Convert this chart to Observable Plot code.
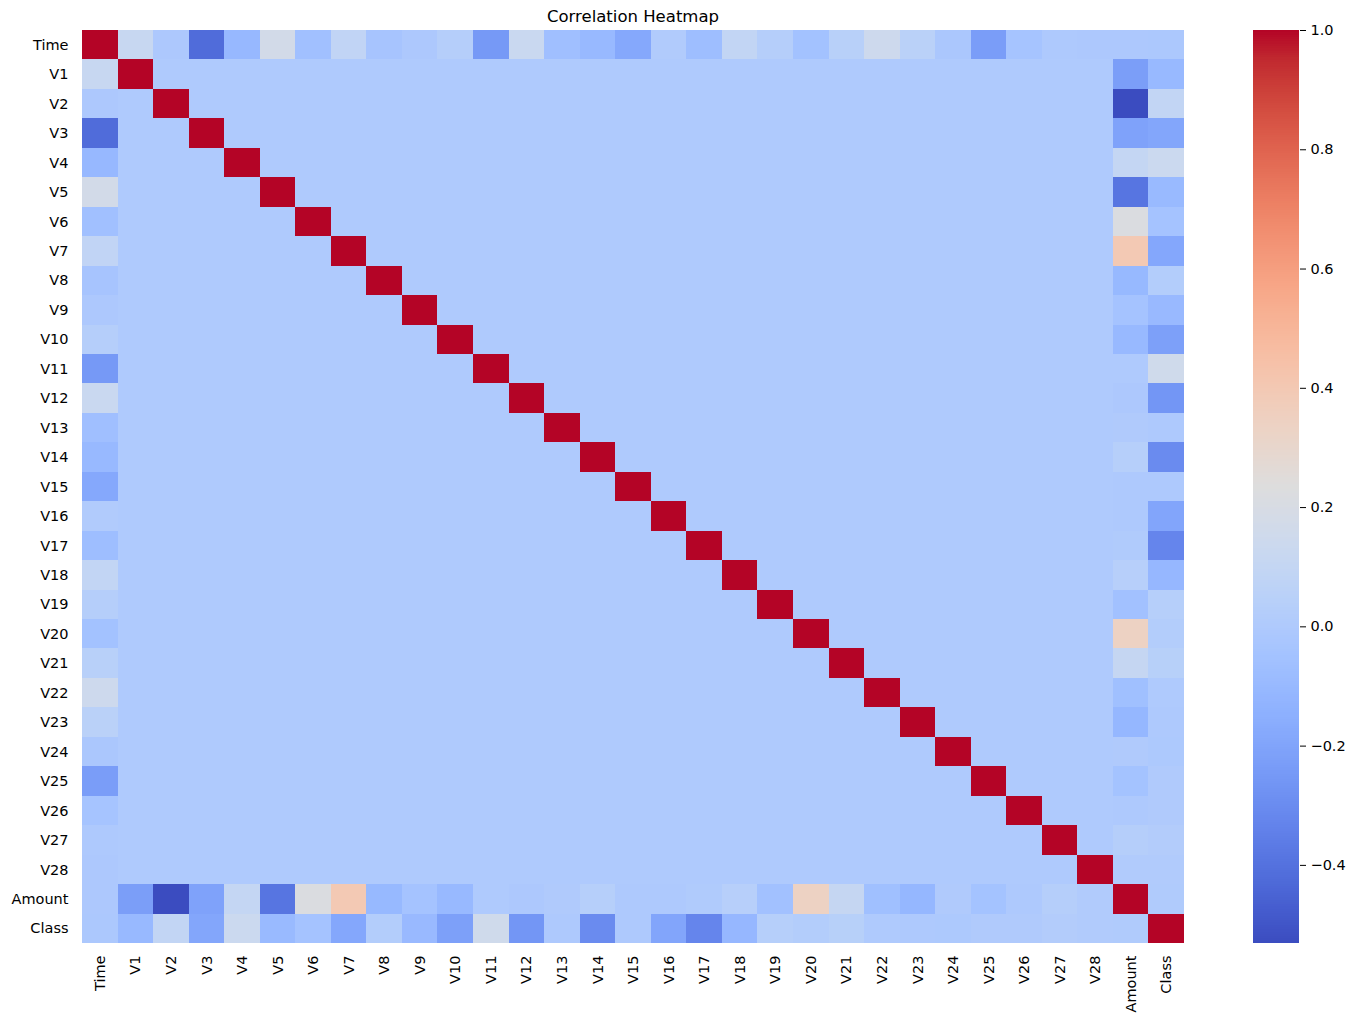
<!DOCTYPE html>
<html>
<head>
<meta charset="utf-8">
<script src="https://cdn.jsdelivr.net/npm/d3@7"></script>
<script src="https://cdn.jsdelivr.net/npm/@observablehq/plot@0.6"></script>
<style>
  body { margin: 0; background: #fff; font-family: "DejaVu Sans", sans-serif; overflow: hidden; }
  #wrap { position: relative; width: 1358px; height: 1025px; }
  #title { position: absolute; left: 0; width: 1266px; top: 7px; text-align: center; font-size: 16.5px; color: #000; }
  #main { position: absolute; left: 0; top: 0; }
  #cbar { position: absolute; left: 1200px; top: 0; }
</style>
</head>
<body>
<div id="wrap">
  <div id="title">Correlation Heatmap</div>
  <div id="main"></div>
  <div id="cbar"></div>
</div>
<script>
const labels = ["Time","V1","V2","V3","V4","V5","V6","V7","V8","V9","V10","V11","V12","V13","V14","V15","V16","V17","V18","V19","V20","V21","V22","V23","V24","V25","V26","V27","V28","Amount","Class"];

// correlations of Time with every variable (same order as labels)
const timeCorr = [1, 0.117, -0.011, -0.420, -0.105, 0.173, -0.063, 0.085, -0.037, -0.009, 0.031, -0.248, 0.124, -0.066, -0.099, -0.183, 0.012, -0.073, 0.090, 0.029, -0.051, 0.045, 0.144, 0.051, -0.016, -0.233, -0.041, -0.005, -0.009, -0.011, -0.012];
// correlations of Amount with every variable
const amountCorr = [-0.011, -0.228, -0.531, -0.211, 0.099, -0.386, 0.216, 0.397, -0.103, -0.044, -0.102, 0.000, -0.010, 0.005, 0.034, -0.003, -0.004, 0.007, 0.036, -0.056, 0.339, 0.106, -0.065, -0.113, 0.005, -0.048, -0.003, 0.029, 0.010, 1, 0.006];
// correlations of Class with every variable
const classCorr = [-0.012, -0.101, 0.091, -0.193, 0.133, -0.095, -0.044, -0.187, 0.020, -0.098, -0.217, 0.155, -0.261, -0.005, -0.303, -0.004, -0.197, -0.326, -0.111, 0.035, 0.020, 0.040, 0.001, -0.003, -0.007, 0.003, 0.004, 0.018, 0.010, 0.006, 1];

const colorbarTicks = [-0.4, -0.2, 0.0, 0.2, 0.4, 0.6, 0.8, 1.0];

// matplotlib "coolwarm" (Moreland) colour stops
const coolwarm = [
  "rgb(59,76,192)","rgb(68,90,204)","rgb(77,104,215)","rgb(87,117,225)","rgb(98,130,234)",
  "rgb(108,142,241)","rgb(119,154,247)","rgb(130,165,251)","rgb(141,176,254)","rgb(152,185,255)",
  "rgb(163,194,255)","rgb(174,201,253)","rgb(184,208,249)","rgb(194,213,244)","rgb(204,217,238)",
  "rgb(213,219,230)","rgb(221,221,221)","rgb(229,216,209)","rgb(236,211,197)","rgb(241,204,185)",
  "rgb(245,196,173)","rgb(247,187,160)","rgb(247,177,148)","rgb(247,166,135)","rgb(244,154,123)",
  "rgb(241,141,111)","rgb(236,127,99)","rgb(229,112,88)","rgb(222,96,77)","rgb(213,80,66)",
  "rgb(203,62,56)","rgb(192,40,47)","rgb(180,4,38)"
];

const special = {Time: timeCorr, Amount: amountCorr, Class: classCorr};
const cells = [];
for (const r of labels) {
  for (const c of labels) {
    const j = labels.indexOf(c), i = labels.indexOf(r);
    let v;
    if (r === c) v = 1;
    else if (special[r]) v = special[r][j];
    else if (special[c]) v = special[c][i];
    else v = 0;
    cells.push({row: r, col: c, v});
  }
}

const vmin = d3.min(cells, d => d.v), vmax = d3.max(cells, d => d.v);
const colorOpts = {type: "linear", domain: [vmin, vmax], interpolate: d3.piecewise(d3.interpolateRgb, coolwarm)};

const main = Plot.plot({
  width: 1200, height: 1025,
  marginLeft: 82, marginRight: 16, marginTop: 30, marginBottom: 82,
  style: {fontFamily: "DejaVu Sans, sans-serif", fontSize: "14.5px", color: "#000", background: "transparent"},
  x: {domain: labels, padding: 0, round: false, label: null},
  y: {domain: labels, padding: 0, round: false, label: null},
  color: colorOpts,
  marks: [
    Plot.cell(cells, {x: "col", y: "row", fill: "v", inset: 0, shapeRendering: "crispEdges"}),
    Plot.axisX({anchor: "bottom", tickRotate: -90, tickSize: 0, tickPadding: 12, label: null}),
    Plot.axisY({anchor: "left", tickSize: 0, tickPadding: 14, label: null})
  ]
});
document.getElementById("main").appendChild(main);

const steps = 400;
const bar = d3.range(steps).map(i => ({
  y1: vmin + (vmax - vmin) * i / steps,
  y2: vmin + (vmax - vmin) * (i + 1) / steps,
  v: vmin + (vmax - vmin) * (i + 0.5) / steps
}));

const cbar = Plot.plot({
  width: 158, height: 1025,
  marginLeft: 53, marginRight: 59, marginTop: 30, marginBottom: 82,
  style: {fontFamily: "DejaVu Sans, sans-serif", fontSize: "14.5px", color: "#000", background: "transparent"},
  y: {domain: [vmin, vmax], label: null},
  color: colorOpts,
  marks: [
    Plot.rectY(bar, {y1: "y1", y2: "y2", fill: "v", shapeRendering: "crispEdges"}),
    Plot.axisY({anchor: "right", ticks: colorbarTicks, tickFormat: d3.format(".1f"), tickSize: 6, tickPadding: 5, label: null})
  ]
});
document.getElementById("cbar").appendChild(cbar);
</script>
</body>
</html>
